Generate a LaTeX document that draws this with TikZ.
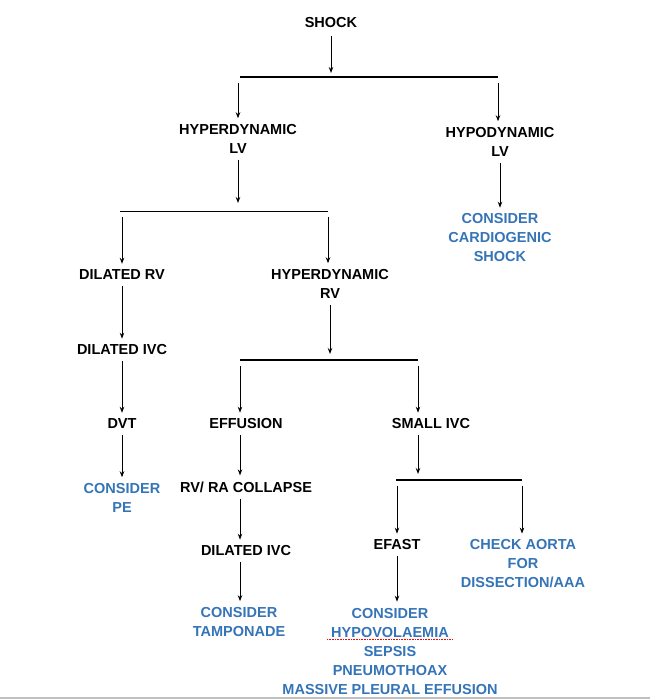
\documentclass[tikz,border=0pt]{standalone}
\usepackage{fontspec}
\setmainfont{Liberation Sans}
\usepackage{xcolor}
\usetikzlibrary{arrows.meta}
\definecolor{cblue}{HTML}{3474B7}

\begin{document}
\begin{tikzpicture}[x=1pt,y=-1pt,
  box/.style={font=\fontsize{14.5}{19}\selectfont\bfseries, align=center, inner sep=0pt},
  tip/.style={box, text=cblue},
  arr/.style={-{Stealth[length=6pt,width=4.5pt]}, line width=0.9pt, shorten <=6pt, shorten >=6pt},
  bar/.style={line width=1.3pt}]
\useasboundingbox (0,0) rectangle (650,700);
\draw[line width=2.5pt, black!25] (0,698) -- (650,698);

% nodes
\node[box] (shock) at (331,23) {SHOCK};
\node[box] (hyperlv) at (238,139) {HYPERDYNAMIC\\LV};
\node[box] (hypolv) at (500,142) {HYPODYNAMIC\\LV};
\node[tip] (cardio) at (500,238) {CONSIDER\\CARDIOGENIC\\SHOCK};
\node[box] (dilrv) at (122,275) {DILATED RV};
\node[box] (hyperrv) at (330,284) {HYPERDYNAMIC\\RV};
\node[box] (dilivc) at (122,350) {DILATED IVC};
\node[box] (dvt) at (122,424) {DVT};
\node[tip] (pe) at (122,498) {CONSIDER\\PE};
\node[box] (effusion) at (246,424) {EFFUSION};
\node[box] (smallivc) at (431,424) {SMALL IVC};
\node[box] (collapse) at (246,487) {RV/ RA COLLAPSE};
\node[box] (dilivcb) at (246,551) {DILATED IVC};
\node[tip] (tamp) at (239,622) {CONSIDER\\TAMPONADE};
\node[box] (efast) at (397,545) {EFAST};
\node[tip] (aorta) at (523,564) {CHECK AORTA\\FOR\\DISSECTION/AAA};
\node[tip] (hypo) at (390,651) {CONSIDER\\HYPOVOLAEMIA\\SEPSIS\\PNEUMOTHOAX\\MASSIVE PLEURAL EFFUSION};

% bars
\coordinate (b1l) at (240,77); \coordinate (b1r) at (498,77);
\coordinate (b2l) at (120,211); \coordinate (b2r) at (328,211);
\coordinate (b3l) at (240,360); \coordinate (b3r) at (418,360);
\coordinate (b4l) at (396,480); \coordinate (b4r) at (522,480);
\draw[bar] (b1l) -- (b1r);
\draw[line width=0.7pt] (b2l) -- (b2r);
\draw[bar] (b3l) -- (b3r);
\draw[bar] (b4l) -- (b4r);

% connectors
\draw[arr, shorten <=8pt, shorten >=4pt] (shock.south) -- (shock.south |- b1l);
\draw[arr] (b1l -| hyperlv) -- (hyperlv.north);
\draw[arr] (b1r) -- (b1r |- hypolv.north);
\draw[arr, shorten >=8pt] (hyperlv.south) -- (hyperlv.south |- b2l);
\draw[arr] (hypolv.south) -- (cardio.north);
\draw[arr] (b2l -| dilrv) -- (dilrv.north);
\draw[arr] (b2r) -- (b2r |- hyperrv.north);
\draw[arr] (dilrv.south) -- (dilivc.north);
\draw[arr] (dilivc.south) -- (dvt.north);
\draw[arr] (dvt.south) -- (pe.north);
\draw[arr] (hyperrv.south) -- (hyperrv.south |- b3l);
\draw[arr] (b3l) -- (b3l |- effusion.north);
\draw[arr] (b3r) -- (b3r |- smallivc.north);
\draw[arr] (b3l |- effusion.south) -- (b3l |- collapse.north);
\draw[arr] (b3l |- collapse.south) -- (b3l |- dilivcb.north);
\draw[arr] (b3l |- dilivcb.south) -- (b3l |- tamp.north);
\draw[arr] (b3r |- smallivc.south) -- (b3r |- b4l);
\draw[arr] (b4l -| efast) -- (efast.north);
\draw[arr] (b4r) -- (b4r |- aorta.north);
\draw[arr] (efast.south) -- (efast.south |- hypo.north);

% spelling mark
\draw[red, densely dotted, line width=0.6pt] (327,639) -- (453,639);
\end{tikzpicture}
\end{document}
